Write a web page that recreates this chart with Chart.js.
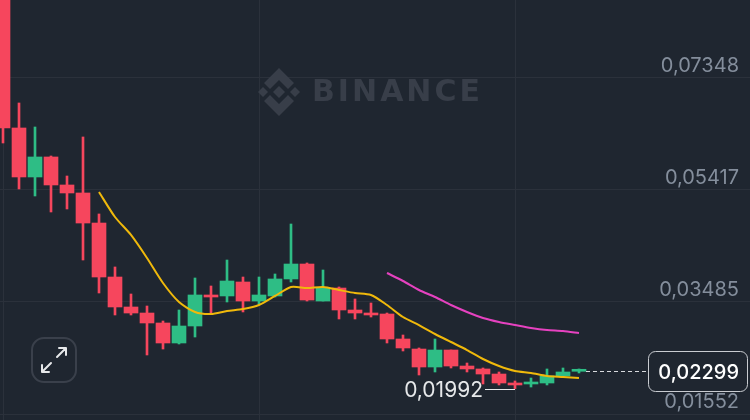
<!DOCTYPE html>
<html>
<head>
<meta charset="utf-8">
<script src="https://cdn.jsdelivr.net/npm/chart.js@4.4.1/dist/chart.umd.min.js"></script>
<style>
  html, body { margin: 0; padding: 0; background: #1f2630; }
  #wrap { width: 750px; height: 420px; position: relative; }
</style>
</head>
<body>
<div id="wrap"><canvas id="chart"></canvas></div>
<script>
// candles (index 0 is the one cut off at the left edge)
const opens  = [0.09000, 0.06486, 0.05641, 0.05986, 0.05503, 0.05365, 0.04847, 0.03916, 0.03399, 0.03295,
                0.03123, 0.02778, 0.03071, 0.03606, 0.03589, 0.03830, 0.03502, 0.03589, 0.03882, 0.04140,
                0.03502, 0.03726, 0.03347, 0.03295, 0.03278, 0.02847, 0.02674, 0.02364, 0.02657, 0.02381,
                0.02330, 0.02243, 0.02088, 0.02071, 0.02088, 0.02209, 0.02290];
const highs  = [0.09400, 0.06917, 0.06503, 0.06003, 0.05658, 0.06331, 0.05003, 0.04089, 0.03623, 0.03416,
                0.03157, 0.03347, 0.03899, 0.03761, 0.04209, 0.03916, 0.03916, 0.03968, 0.04830, 0.04158,
                0.04037, 0.03744, 0.03537, 0.03468, 0.03295, 0.02916, 0.02692, 0.02847, 0.02657, 0.02433,
                0.02347, 0.02278, 0.02123, 0.02174, 0.02330, 0.02347, 0.02330];
const lows   = [0.06227, 0.05434, 0.05313, 0.05037, 0.05089, 0.04209, 0.03640, 0.03261, 0.03261, 0.02571,
                0.02674, 0.02761, 0.02881, 0.03278, 0.03485, 0.03313, 0.03451, 0.03571, 0.03830, 0.03502,
                0.03502, 0.03192, 0.03192, 0.03226, 0.02778, 0.02640, 0.02226, 0.02278, 0.02347, 0.02278,
                0.02071, 0.02054, 0.01992, 0.02019, 0.02054, 0.02192, 0.02261];
const closes = [0.06486, 0.05641, 0.05986, 0.05503, 0.05365, 0.04847, 0.03916, 0.03399, 0.03295, 0.03123,
                0.02778, 0.03071, 0.03606, 0.03571, 0.03847, 0.03502, 0.03606, 0.03882, 0.04140, 0.03519,
                0.03726, 0.03347, 0.03295, 0.03261, 0.02847, 0.02692, 0.02364, 0.02657, 0.02381, 0.02330,
                0.02243, 0.02088, 0.02054, 0.02105, 0.02209, 0.02278, 0.02299];

// moving averages as drawn (yellow starts at candle 6, pink at candle 24)
const maShortStart = 6;
const maShort = [0.05382, 0.04951, 0.04641, 0.04244, 0.03813, 0.03485, 0.03313, 0.03278, 0.03330, 0.03364,
                 0.03433, 0.03589, 0.03744, 0.03726, 0.03744, 0.03692, 0.03640, 0.03606, 0.03433, 0.03226,
                 0.03088, 0.02933, 0.02795, 0.02657, 0.02502, 0.02381, 0.02295, 0.02261, 0.02209, 0.02192,
                 0.02174];
const maLongStart = 24;
const maLong = [0.03985, 0.03847, 0.03692, 0.03571, 0.03433, 0.03313, 0.03209, 0.03140, 0.03088, 0.03037,
                0.03002, 0.02985, 0.02950];

const yTicks = [0.01552, 0.03485, 0.05417, 0.07348];
const yTickLabels = ["0,01552", "0,03485", "0,05417", "0,07348"];
const xGridAt = [0, 16, 32];
const lastPrice = 0.02299, lastPriceLabel = "0,02299";
const lowPrice = 0.01992, lowPriceLabel = "0,01992";

const UP = "#2ebd85", DOWN = "#f6465d";
const candleColors = closes.map((c, i) => c >= opens[i] ? UP : DOWN);

const wickData = closes.map((c, i) => ({ x: i, y: [lows[i], highs[i]] }));
const bodyData = closes.map((c, i) => ({ x: i, y: [opens[i], c] }));
const maShortData = maShort.map((v, i) => ({ x: maShortStart + i, y: v }));
const maLongData = maLong.map((v, i) => ({ x: maLongStart + i, y: v }));

const FONT = "Inter, 'Open Sans', sans-serif";

function roundRect(ctx, x, y, w, h, r) {
    ctx.beginPath();
    ctx.moveTo(x + r, y);
    ctx.arcTo(x + w, y, x + w, y + h, r);
    ctx.arcTo(x + w, y + h, x, y + h, r);
    ctx.arcTo(x, y + h, x, y, r);
    ctx.arcTo(x, y, x + w, y, r);
    ctx.closePath();
}

// watermark drawn under the data
const watermark = {
    id: "watermark",
    beforeDatasetsDraw(chart) {
        const ctx = chart.ctx;
        ctx.save();
        ctx.fillStyle = "#383e49";
        const cx = 279, cy = 92;
        const dia = (x, y, s) => {
            ctx.beginPath();
            ctx.moveTo(x, y - s); ctx.lineTo(x + s, y); ctx.lineTo(x, y + s); ctx.lineTo(x - s, y);
            ctx.closePath(); ctx.fill();
        };
        dia(cx, cy, 6);
        dia(cx - 16, cy, 5);
        dia(cx + 16, cy, 5);
        ctx.beginPath();
        ctx.moveTo(cx, cy - 24); ctx.lineTo(cx + 15, cy - 9); ctx.lineTo(cx + 9, cy - 3);
        ctx.lineTo(cx, cy - 12); ctx.lineTo(cx - 9, cy - 3); ctx.lineTo(cx - 15, cy - 9);
        ctx.closePath(); ctx.fill();
        ctx.beginPath();
        ctx.moveTo(cx, cy + 24); ctx.lineTo(cx + 15, cy + 9); ctx.lineTo(cx + 9, cy + 3);
        ctx.lineTo(cx, cy + 12); ctx.lineTo(cx - 9, cy + 3); ctx.lineTo(cx - 15, cy + 9);
        ctx.closePath(); ctx.fill();
        ctx.font = "bold 30px 'DejaVu Sans', sans-serif";
        ctx.letterSpacing = "3px";
        ctx.textBaseline = "middle";
        ctx.fillText("BINANCE", 312, cy + 1);
        ctx.restore();
    }
};

// axis labels, price line, price box, low marker and expand button
const overlays = {
    id: "overlays",
    afterDatasetsDraw(chart) {
        const ctx = chart.ctx;
        const x = chart.scales.x, y = chart.scales.y;
        ctx.save();

        ctx.fillStyle = "#848e9c";
        ctx.font = "20px " + FONT;
        ctx.textAlign = "right";
        ctx.textBaseline = "middle";
        yTicks.forEach((v, i) => {
            ctx.fillText(yTickLabels[i], 739, y.getPixelForValue(v) - 12);
        });

        const py = Math.round(y.getPixelForValue(lastPrice)) + 0.5;
        ctx.strokeStyle = "#d8dade";
        ctx.lineWidth = 1;
        ctx.setLineDash([4, 3]);
        ctx.beginPath();
        ctx.moveTo(x.getPixelForValue(closes.length - 1) + 7, py);
        ctx.lineTo(648, py);
        ctx.stroke();
        ctx.setLineDash([]);

        roundRect(ctx, 648.5, py - 20, 99, 40, 7);
        ctx.fillStyle = "#1f2630";
        ctx.fill();
        ctx.strokeStyle = "#c9ccd1";
        ctx.stroke();
        ctx.fillStyle = "#ffffff";
        ctx.font = "500 20px " + FONT;
        ctx.fillText(lastPriceLabel, 739, py + 1);

        const lowIdx = lows.indexOf(lowPrice);
        const ly = Math.round(y.getPixelForValue(lowPrice)) + 0.5;
        const lx = x.getPixelForValue(lowIdx);
        ctx.strokeStyle = "#e6e8ea";
        ctx.beginPath();
        ctx.moveTo(lx, ly);
        ctx.lineTo(lx - 30, ly);
        ctx.stroke();
        ctx.fillStyle = "#e6e8ea";
        ctx.font = "21px " + FONT;
        ctx.fillText(lowPriceLabel, lx - 32, ly + 1);

        // expand button
        roundRect(ctx, 32, 338, 44, 44, 12);
        ctx.strokeStyle = "#3a404b";
        ctx.lineWidth = 2;
        ctx.stroke();
        ctx.strokeStyle = "#e6e8ea";
        ctx.lineCap = "round";
        ctx.beginPath();
        ctx.moveTo(42, 372); ctx.lineTo(51, 363);
        ctx.moveTo(42, 372); ctx.lineTo(42, 365);
        ctx.moveTo(42, 372); ctx.lineTo(49, 372);
        ctx.moveTo(66, 348); ctx.lineTo(57, 357);
        ctx.moveTo(66, 348); ctx.lineTo(66, 355);
        ctx.moveTo(66, 348); ctx.lineTo(59, 348);
        ctx.stroke();
        ctx.restore();
    }
};

new Chart(document.getElementById("chart"), {
    type: "bar",
    data: {
        datasets: [
            {
                type: "line", data: maShortData, borderColor: "#f0b90b", borderWidth: 2,
                pointRadius: 0, tension: 0.25, order: 0
            },
            {
                type: "line", data: maLongData, borderColor: "#e642c0", borderWidth: 2,
                pointRadius: 0, tension: 0.25, order: 0
            },
            {
                data: bodyData, backgroundColor: candleColors, barThickness: 14,
                minBarLength: 2, grouped: false, order: 1
            },
            {
                data: wickData, backgroundColor: candleColors, barThickness: 2,
                grouped: false, order: 2
            }
        ]
    },
    options: {
        responsive: true,
        maintainAspectRatio: false,
        animation: false,
        layout: { padding: 0 },
        plugins: { legend: { display: false }, tooltip: { enabled: false } },
        scales: {
            x: {
                type: "linear",
                offset: false,
                min: -0.1875,
                max: 46.6875,
                afterBuildTicks: s => { s.ticks = xGridAt.map(v => ({ value: v })); },
                ticks: { display: false },
                grid: { color: "#2b313b", drawTicks: false, offset: false },
                border: { display: false }
            },
            y: {
                position: "right",
                min: 0.01450,
                max: 0.08693,
                afterBuildTicks: s => { s.ticks = yTicks.map(v => ({ value: v })); },
                ticks: { display: false },
                grid: { color: "#2b313b", drawTicks: false },
                border: { display: false }
            }
        }
    },
    plugins: [watermark, overlays]
});
</script>
</body>
</html>
